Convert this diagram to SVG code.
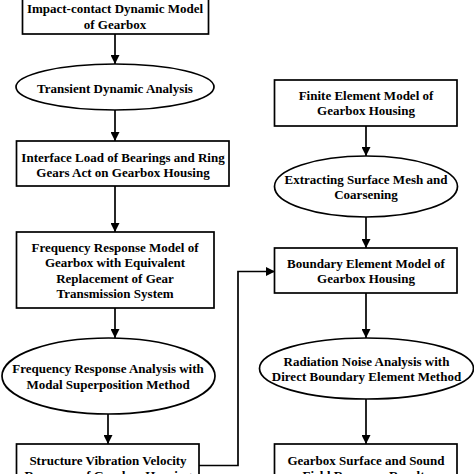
<svg xmlns="http://www.w3.org/2000/svg" width="474" height="474" viewBox="0 0 474 474">
<defs>
<marker id="ah" viewBox="0 0 10 10" refX="10" refY="5" markerWidth="9" markerHeight="9" markerUnits="userSpaceOnUse" orient="auto">
<path d="M0,0 L10,5 L0,10 z" fill="#000"/>
</marker>
</defs>
<style>
.n{fill:#fff;stroke:#000;stroke-width:1.7}
.t{font-family:"Liberation Serif","Times New Roman",serif;font-weight:bold;font-size:13px;fill:#000;text-anchor:middle;dominant-baseline:central}
.c{fill:none;stroke:#000;stroke-width:1.7;marker-end:url(#ah)}
</style>
<rect width="474" height="474" fill="#fff"/>
<g id="connectors">
<path class="c" d="M115,34 V64"/>
<path class="c" d="M115,110 V141"/>
<path class="c" d="M115,186 V232"/>
<path class="c" d="M115,308 V338"/>
<path class="c" d="M108,414 V444"/>
<path class="c" d="M199,465.5 H238 V271.5 H275"/>
<path class="c" d="M366,126 V156"/>
<path class="c" d="M366,217 V248"/>
<path class="c" d="M366,293 V338"/>
<path class="c" d="M366,399 V444"/>
</g>
<g id="n1"><rect class="n" x="22.5" y="-10" width="186" height="44"/>
<text class="t" x="115" y="8.5">Impact-contact Dynamic Model</text>
<text class="t" x="115" y="24">of Gearbox</text></g>
<g id="n2"><ellipse class="n" cx="115" cy="87" rx="99" ry="23"/>
<text class="t" x="115" y="88">Transient Dynamic Analysis</text></g>
<g id="n3"><rect class="n" x="16.5" y="141" width="212.5" height="45"/>
<text class="t" x="123" y="157">Interface Load of Bearings and Ring</text>
<text class="t" x="123" y="172">Gears Act on Gearbox Housing</text></g>
<g id="n4"><rect class="n" x="16.5" y="232" width="197.5" height="76"/>
<text class="t" x="115" y="247">Frequency Response Model of</text>
<text class="t" x="115" y="262.5">Gearbox with Equivalent</text>
<text class="t" x="115" y="278">Replacement of Gear</text>
<text class="t" x="115" y="293.5">Transmission System</text></g>
<g id="n5"><ellipse class="n" cx="108.5" cy="376" rx="106.5" ry="38"/>
<text class="t" x="108" y="368">Frequency Response Analysis with</text>
<text class="t" x="108" y="384">Modal Superposition Method</text></g>
<g id="n6"><rect class="n" x="16.5" y="444" width="182.5" height="60"/>
<text class="t" x="108" y="460">Structure Vibration Velocity</text>
<text class="t" x="108" y="475.5">Response of Gearbox Housing</text></g>
<g id="n7"><rect class="n" x="274.5" y="80" width="182.5" height="46"/>
<text class="t" x="366" y="95">Finite Element Model of</text>
<text class="t" x="366" y="110.5">Gearbox Housing</text></g>
<g id="n8"><ellipse class="n" cx="366" cy="186.5" rx="91.5" ry="30.5"/>
<text class="t" x="366" y="179">Extracting Surface Mesh and</text>
<text class="t" x="366" y="194.5">Coarsening</text></g>
<g id="n9"><rect class="n" x="274.5" y="248" width="182.5" height="45"/>
<text class="t" x="366" y="263">Boundary Element Model of</text>
<text class="t" x="366" y="278.5">Gearbox Housing</text></g>
<g id="n10"><ellipse class="n" cx="366.5" cy="368.5" rx="107" ry="30.5"/>
<text class="t" x="366.5" y="361.5">Radiation Noise Analysis with</text>
<text class="t" x="366.5" y="376.5">Direct Boundary Element Method</text></g>
<g id="n11"><rect class="n" x="274.5" y="444" width="182.5" height="60"/>
<text class="t" x="366" y="460">Gearbox Surface and Sound</text>
<text class="t" x="366" y="475.5">Field Response Results</text></g>
</svg>
